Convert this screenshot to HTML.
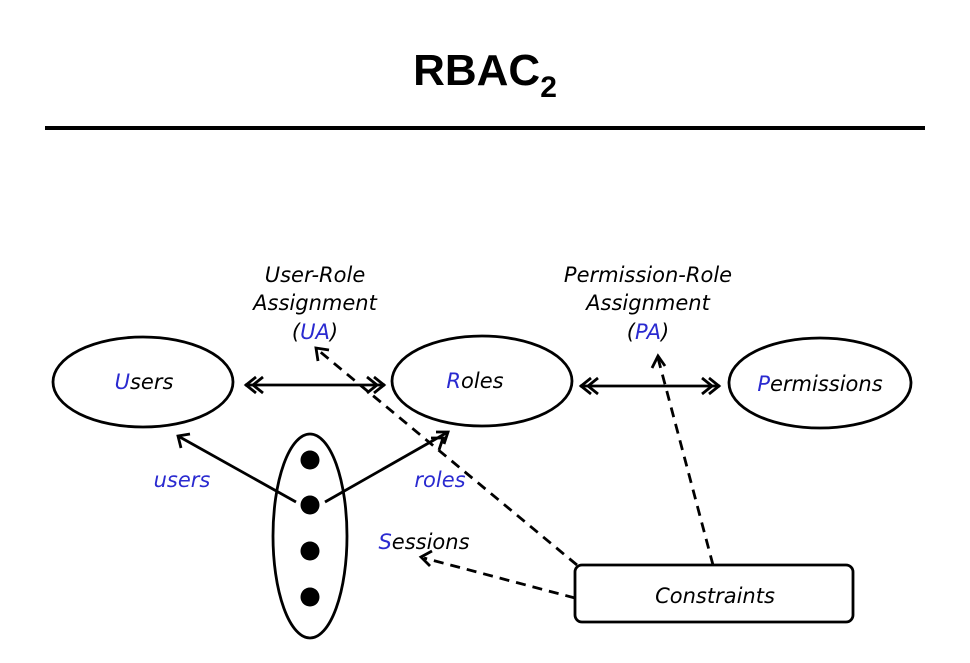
<!DOCTYPE html>
<html><head><style>body{margin:0;background:#fff}</style></head><body>
<svg width="970" height="658" xmlns="http://www.w3.org/2000/svg" font-family="DejaVu Sans, sans-serif">
<text x="485" y="85" text-anchor="middle" font-size="44" font-weight="bold" font-family="Liberation Sans, sans-serif">RBAC<tspan font-size="30" dy="12">2</tspan></text>
<line x1="45" y1="128" x2="925" y2="128" stroke="#000" stroke-width="4"/>
<g fill="none" stroke="#000" stroke-width="2.8">
<ellipse cx="143" cy="382" rx="90" ry="45"/>
<ellipse cx="482" cy="381" rx="90" ry="45"/>
<ellipse cx="820" cy="383" rx="91" ry="45"/>
<ellipse cx="310" cy="536" rx="37" ry="102"/>
<rect x="575" y="565" width="278" height="57" rx="7"/>
<line x1="245" y1="385" x2="385" y2="385"/>
<path d="M256 377 L246 385 L256 393 M263 377 L253 385 L263 393"/>
<path d="M374 377 L384 385 L374 393 M367 377 L377 385 L367 393"/>
<line x1="580" y1="386" x2="720" y2="386"/>
<path d="M591 378 L581 386 L591 394 M598 378 L588 386 L598 394"/>
<path d="M709 378 L719 386 L709 394 M702 378 L712 386 L702 394"/>
<line x1="296" y1="502" x2="178" y2="436"/>
<path d="M181 448 L178 436 L190 434"/>
<line x1="325" y1="502" x2="448" y2="432"/>
<path d="M436 432 L448 432 L444 444 M431 438 L443 438 L439 450"/>
<g stroke-dasharray="10,7">
<line x1="577" y1="565" x2="318" y2="350"/>
<line x1="713" y1="565" x2="658" y2="358"/>
<line x1="575" y1="598" x2="424" y2="558"/>
</g>
<path d="M318 361 L316 348 L329 350"/>
<path d="M652 368 L658 356 L665 366"/>
<path d="M432 551 L421 557 L430 566"/>
</g>
<g fill="#000"><circle cx="310" cy="460" r="9.5"/><circle cx="310" cy="505" r="9.5"/><circle cx="310" cy="551" r="9.5"/><circle cx="310" cy="597" r="9.5"/></g>
<g font-size="21" font-style="italic" text-anchor="middle" fill="#000">
<text x="144" y="389"><tspan fill="#2a2ad0">U</tspan>sers</text>
<text x="475" y="388"><tspan fill="#2a2ad0">R</tspan>oles</text>
<text x="820" y="391"><tspan fill="#2a2ad0">P</tspan>ermissions</text>
<text x="715" y="603">Constraints</text>
<text x="182" y="487" fill="#2a2ad0">users</text>
<text x="440" y="487" fill="#2a2ad0">roles</text>
<text x="424" y="549"><tspan fill="#2a2ad0">S</tspan>essions</text>
<text x="315" y="282">User-Role</text>
<text x="315" y="310">Assignment</text>
<text x="315" y="339">(<tspan fill="#2a2ad0">UA</tspan>)</text>
<text x="648" y="282">Permission-Role</text>
<text x="648" y="310">Assignment</text>
<text x="648" y="339">(<tspan fill="#2a2ad0">PA</tspan>)</text>
</g>
</svg>
</body></html>
